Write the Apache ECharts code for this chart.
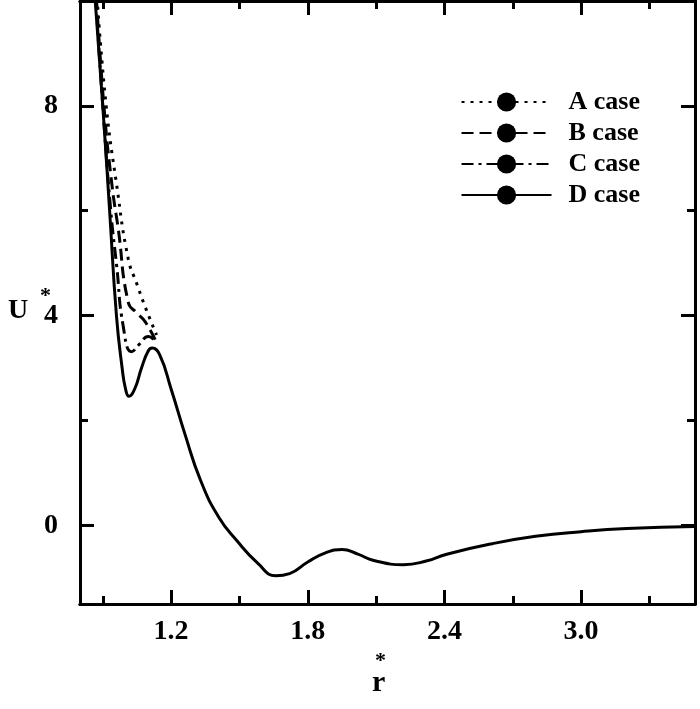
<!DOCTYPE html>
<html lang="en">
<head>
<meta charset="UTF-8">
<title>U* vs r*</title>
<script src="https://cdn.jsdelivr.net/npm/echarts@6/dist/echarts.min.js"></script>
<style>
  body, html { margin: 0; padding: 0; background: #fff; }
  #main { width: 700px; height: 709px; }
</style>
</head>
<body>
<div id="main"></div>
<script>
// data: [r*, U*]
var caseA = [[0.875,10.06],[0.915,8],[0.961,6.49],[1.012,5.08],[1.05,4.6],[1.085,4.18],[1.136,3.63]];
var caseB = [[0.872,10.06],[0.905,8],[0.94,6.5],[0.968,5.65],[1.012,4.25],[1.05,4.05],[1.085,3.89],[1.13,3.54]];
var caseC = [[0.869,10.06],[0.9,8],[0.935,6],[0.961,4.95],[0.99,3.79],[1.027,3.31],[1.06,3.45],[1.10,3.6],[1.136,3.48]];
var caseD = [[0.866,10.06],[0.9,8],[0.93,6],[0.96,4],[0.985,3],[1.0,2.6],[1.015,2.46],[1.04,2.6],[1.07,3.0],
  [1.1,3.33],[1.117,3.38],[1.15,3.25],[1.2,2.6],[1.26,1.75],[1.33,0.85],[1.41,0.15],[1.49,-0.3],[1.58,-0.72],
  [1.66,-0.96],[1.72,-0.92],[1.8,-0.7],[1.88,-0.52],[1.95,-0.46],[2.02,-0.55],[2.09,-0.67],[2.22,-0.75],
  [2.32,-0.68],[2.41,-0.55],[2.61,-0.35],[2.8,-0.21],[3.0,-0.12],[3.2,-0.06],[3.5,-0.02]];
var xMajor = [1.2, 1.8, 2.4, 3.0];
var xMinor = [0.9, 1.5, 2.1, 2.7, 3.3];
var yMajor = [0, 4, 8];
var yMinor = [2, 6];

var font = "Liberation Serif";
var my_chart = echarts.init(document.getElementById("main"));

function xAx(pos, vals, len, labels) {
    return {
        type: "value", position: pos, min: 0.8, max: 3.5,
        axisLine: { show: true, onZero: false, lineStyle: { color: "#000", width: 3 } },
        splitLine: { show: false },
        axisTick: { inside: true, length: len, customValues: vals, lineStyle: { color: "#000", width: 3 } },
        axisLabel: labels ? { customValues: vals, formatter: v => v.toFixed(1), fontFamily: font,
            fontWeight: "bold", fontSize: 28, color: "#000", margin: 14 } : { show: false }
    };
}
function yAx(pos, vals, len, labels) {
    return {
        type: "value", position: pos, min: -1.5, max: 10,
        axisLine: { show: true, onZero: false, lineStyle: { color: "#000", width: 3 } },
        splitLine: { show: false },
        axisTick: { inside: true, length: len, customValues: vals, lineStyle: { color: "#000", width: 3 } },
        axisLabel: labels ? { customValues: vals, fontFamily: font, fontWeight: "bold", fontSize: 28,
            color: "#000", margin: 22 } : { show: false }
    };
}

function line(name, data, type) {
    return { name: name, type: "line", data: data, smooth: true, symbol: "none",
        lineStyle: { color: "#000", width: 3, type: type }, itemStyle: { color: "#000" } };
}

var option = {
    animation: false,
    backgroundColor: "#fff",
    grid: { left: 80, right: 5, top: 1, bottom: 105 },
    xAxis: [xAx("bottom", xMajor, 14, true), xAx("bottom", xMinor, 8, false),
            xAx("top", xMajor, 14, false), xAx("top", xMinor, 8, false)],
    yAxis: [yAx("left", yMajor, 14, true), yAx("left", yMinor, 8, false),
            yAx("right", yMajor, 14, false), yAx("right", yMinor, 8, false)],
    legend: {
        right: 55, top: 84, orient: "vertical", itemGap: 5, itemWidth: 90, itemHeight: 24,
        textStyle: { fontFamily: font, fontWeight: "bold", fontSize: 26, color: "#000", padding: [0, 0, 0, 12] },
        data: ["A case", "B case", "C case", "D case"]
    },
    graphic: [
        { type: "text", left: 8, top: 297, style: { text: "U", font: "bold 28px 'Liberation Serif'", fill: "#000" } },
        { type: "text", left: 40, top: 285, style: { text: "*", font: "bold 22px 'Liberation Serif'", fill: "#000" } },
        { type: "text", left: 372, top: 668, style: { text: "r", font: "bold 30px 'Liberation Serif'", fill: "#000" } },
        { type: "text", left: 375, top: 650, style: { text: "*", font: "bold 22px 'Liberation Serif'", fill: "#000" } }
    ],
    series: [
        line("A case", caseA, [3, 6]),
        line("B case", caseB, [12, 6]),
        line("C case", caseC, [12, 5, 3, 5]),
        line("D case", caseD, "solid")
    ]
};
my_chart.setOption(option);
</script>
</body>
</html>
